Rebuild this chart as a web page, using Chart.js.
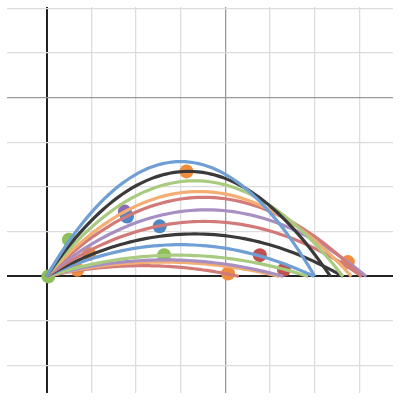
<!DOCTYPE html>
<html>
<head>
<meta charset="utf-8">
<script src="https://cdn.jsdelivr.net/npm/chart.js@4"></script>
<style>
  html, body { margin: 0; padding: 0; background: #fff; }
  #wrap { width: 400px; height: 400px; }
</style>
</head>
<body>
<div id="wrap"><canvas id="c"></canvas></div>
<script>
// trajectories (graph units)
const peakHeights = [2.57, 2.35, 2.14, 1.90, 1.77, 1.49, 1.23, 0.95, 0.71, 0.475, 0.37, 0.32, 0.24];
const ranges      = [6.00, 6.35, 6.63, 6.82, 7.04, 7.15, 7.06, 6.63, 5.98, 5.85, 5.30, 5.20, 4.30];
const curveColors = ["#6f9fd4", "#3a3a3a", "#a9cb80", "#f4ad72", "#d27a78", "#a88fc2", "#d27a78",
                     "#3a3a3a", "#6f9fd4", "#a9cb80", "#a88fc2", "#f4ad72", "#d27a78"];

// marker dots
const dotX = [3.13, 0.50, 1.75, 1.80, 2.53, 0.95, 2.63, 4.77, 5.31, 4.06, 6.74, 0.69, 0.04];
const dotY = [2.35, 0.82, 1.45, 1.34, 1.12, 0.50, 0.475, 0.475, 0.15, 0.065, 0.32, 0.15, 0.0];
const dotColors = ["#f08c3c", "#8dbf5a", "#8e6bb0", "#4f86c6", "#4f86c6", "#f08c3c", "#8dbf5a",
                   "#c0504d", "#c0504d", "#f08c3c", "#f08c3c", "#f08c3c", "#8dbf5a"];

const xMin = -0.885, xMax = 7.75, yMin = -2.61, yMax = 6.03;

const datasets = [];
peakHeights.forEach((h, i) => {
    const R = ranges[i];
    const pts = [];
    for (let k = 0; k <= 60; k++) {
        const x = R * k / 60;
        pts.push({ x: x, y: 4 * h * x * (R - x) / (R * R) });
    }
    datasets.push({
        type: "line", data: pts, borderColor: curveColors[i], borderWidth: 3.2,
        pointRadius: 0, fill: false, tension: 0
    });
});
datasets.push({
    type: "scatter",
    data: dotX.map((x, i) => ({ x: x, y: dotY[i] })),
    backgroundColor: dotColors, borderWidth: 0, pointRadius: 7
});

function gridColor(ctx) {
    const v = ctx.tick && ctx.tick.value;
    if (v === 0) return "#222";
    if (v % 4 === 0) return "#999";
    return "#dcdcdc";
}
function gridWidth(ctx) {
    return ctx.tick && ctx.tick.value === 0 ? 2 : 1.3;
}
function intTicks(min, max) {
    return axis => {
        const t = [];
        for (let v = Math.ceil(min); v <= max; v++) t.push({ value: v });
        axis.ticks = t;
    };
}

new Chart(document.getElementById("c"), {
    type: "line",
    data: { datasets: datasets },
    options: {
        responsive: true, maintainAspectRatio: false, animation: false,
        layout: { padding: 0 },
        plugins: { legend: { display: false }, tooltip: { enabled: false } },
        scales: {
            x: {
                type: "linear", min: xMin, max: xMax,
                afterBuildTicks: intTicks(xMin, xMax),
                afterFit: s => { s.height = 0; s.paddingLeft = 0; s.paddingRight = 0; },
                ticks: { display: false, padding: 0 },
                border: { display: false },
                grid: { color: gridColor, lineWidth: gridWidth, drawTicks: false }
            },
            y: {
                type: "linear", min: yMin, max: yMax,
                afterBuildTicks: intTicks(yMin, yMax),
                afterFit: s => { s.width = 0; s.paddingTop = 0; s.paddingBottom = 0; },
                ticks: { display: false, padding: 0 },
                border: { display: false },
                grid: { color: gridColor, lineWidth: gridWidth, drawTicks: false }
            }
        }
    }
});
</script>
</body>
</html>
